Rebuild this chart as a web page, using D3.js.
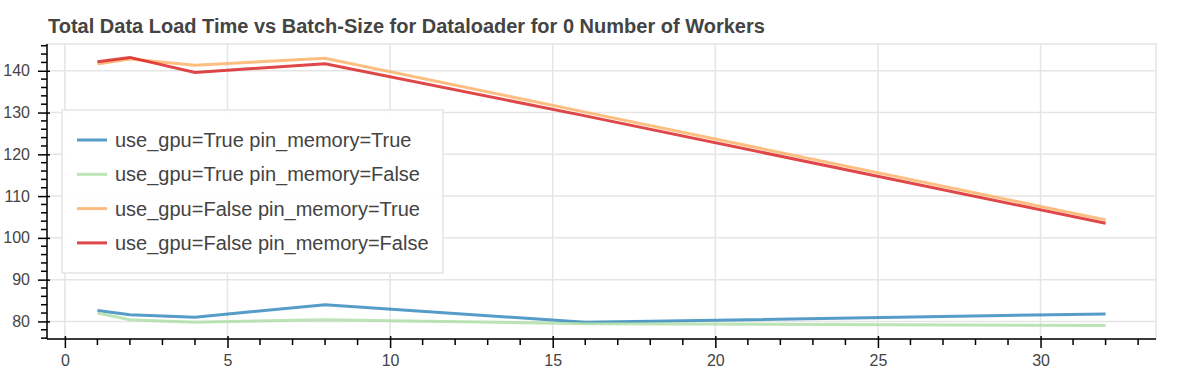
<!DOCTYPE html>
<html>
<head>
<meta charset="utf-8">
<script src="https://cdn.jsdelivr.net/npm/d3@7"></script>
<style>
  body { margin: 0; background: #fff; }
  text { font-family: Helvetica, Arial, "Liberation Sans", sans-serif; fill: #444; }
</style>
</head>
<body>
<div id="chart"></div>
<script>
// data
const batchSizes = [1, 2, 4, 8, 16, 32];
const gpuPinTrue = [82.6, 81.6, 81.0, 84.0, 79.8, 81.8];
const gpuPinFalse = [82.0, 80.4, 79.8, 80.4, 79.45, 79.0];
const cpuPinTrue = [141.6, 142.8, 141.35, 143.0, 130.1, 104.3];
const cpuPinFalse = [142.15, 143.2, 139.6, 141.7, 129.2, 103.5];
const seriesNames = [
  "use_gpu=True pin_memory=True",
  "use_gpu=True pin_memory=False",
  "use_gpu=False pin_memory=True",
  "use_gpu=False pin_memory=False",
];
const colors = ["#2b83ba", "#abdda4", "#fdae61", "#d7191c"];
const xTicks = [0, 5, 10, 15, 20, 25, 30];
const yTicks = [80, 90, 100, 110, 120, 130, 140];

const series = [gpuPinTrue, gpuPinFalse, cpuPinTrue, cpuPinFalse].map((vals, i) => ({
  name: seriesNames[i],
  color: colors[i],
  values: vals.map((v, j) => ({ x: batchSizes[j], y: v })),
}));

const [W, H] = [1200, 375];
const frame = { left: 47, right: 1156, top: 44, bottom: 339 };

const svg = d3.select("#chart").append("svg").attr("width", W).attr("height", H);

// ranges padded like bokeh's DataRange1d (10% total)
function padded(ext) {
  const p = (ext[1] - ext[0]) * 0.05;
  return [ext[0] - p, ext[1] + p];
}
const x = d3.scaleLinear().domain(padded(d3.extent(batchSizes))).range([frame.left, frame.right]);
const allY = series.flatMap((s) => s.values.map((d) => d.y));
const y = d3.scaleLinear().domain(padded(d3.extent(allY))).range([frame.bottom, frame.top]);

// title
svg.append("text")
  .attr("x", 48).attr("y", 33)
  .style("font-size", "20px").style("font-weight", "bold")
  .text("Total Data Load Time vs Batch-Size for Dataloader for 0 Number of Workers");

// grid
const grid = svg.append("g").attr("stroke", "#e5e5e5").attr("stroke-width", 1.5);
xTicks.forEach((t) => {
  grid.append("line").attr("x1", x(t)).attr("x2", x(t)).attr("y1", frame.top).attr("y2", frame.bottom);
});
yTicks.forEach((t) => {
  grid.append("line").attr("x1", frame.left).attr("x2", frame.right).attr("y1", y(t)).attr("y2", y(t));
});
svg.append("rect")
  .attr("x", frame.left).attr("y", frame.top)
  .attr("width", frame.right - frame.left).attr("height", frame.bottom - frame.top)
  .attr("fill", "none").attr("stroke", "#e5e5e5").attr("stroke-width", 1.5);

// lines
const line = d3.line().x((d) => x(d.x)).y((d) => y(d.y));
svg.append("g")
  .selectAll("path")
  .data(series)
  .enter()
  .append("path")
  .attr("d", (d) => line(d.values))
  .attr("fill", "none")
  .attr("stroke", (d) => d.color)
  .attr("stroke-opacity", 0.8)
  .attr("stroke-width", 3);

// axes
const xAxis = d3.axisBottom(x).tickValues(xTicks).tickSizeInner(9).tickSizeOuter(0).tickPadding(7);
const gx = svg.append("g").attr("transform", `translate(0, ${frame.bottom})`).call(xAxis);
const yAxis = d3.axisLeft(y).tickValues(yTicks).tickSizeInner(9).tickSizeOuter(0).tickPadding(8);
const gy = svg.append("g").attr("transform", `translate(${frame.left}, 0)`).call(yAxis);

[gx, gy].forEach((g) => {
  g.select(".domain").remove();
  g.selectAll(".tick line").attr("stroke", "#000").attr("stroke-width", 1.5);
  g.selectAll(".tick text").style("font-size", "16px").attr("fill", "#444");
});
svg.append("line").attr("x1", frame.left).attr("x2", frame.right)
  .attr("y1", frame.bottom).attr("y2", frame.bottom).attr("stroke", "#000").attr("stroke-width", 1.5);
svg.append("line").attr("x1", frame.left).attr("x2", frame.left)
  .attr("y1", frame.top).attr("y2", frame.bottom).attr("stroke", "#000").attr("stroke-width", 1.5);
// major ticks poke 3px into the frame too
gx.selectAll(".tick line").attr("y1", -3);
gy.selectAll(".tick line").attr("x1", 3);

// minor ticks
const xMinor = d3.range(Math.ceil(x.domain()[0]), x.domain()[1], 1).filter((v) => v % 5 !== 0);
svg.append("g").selectAll("line").data(xMinor).enter().append("line")
  .attr("x1", (d) => x(d)).attr("x2", (d) => x(d))
  .attr("y1", frame.bottom).attr("y2", frame.bottom + 6)
  .attr("stroke", "#000").attr("stroke-width", 1.5);
const yMinor = d3.range(Math.ceil(y.domain()[0] / 2) * 2, y.domain()[1], 2).filter((v) => v % 10 !== 0);
svg.append("g").selectAll("line").data(yMinor).enter().append("line")
  .attr("x1", frame.left - 6).attr("x2", frame.left)
  .attr("y1", (d) => y(d)).attr("y2", (d) => y(d))
  .attr("stroke", "#000").attr("stroke-width", 1.5);

// legend
const legend = svg.append("g").attr("transform", "translate(62, 110)");
legend.append("rect")
  .attr("width", 381).attr("height", 163)
  .attr("fill", "#fff").attr("fill-opacity", 0.95)
  .attr("stroke", "#e5e5e5").attr("stroke-width", 1.5);
series.forEach((s, i) => {
  const item = legend.append("g").attr("transform", `translate(0, ${30 + i * 34.3})`);
  item.append("line")
    .attr("x1", 15).attr("x2", 45)
    .attr("stroke", s.color).attr("stroke-opacity", 0.8).attr("stroke-width", 3);
  item.append("text")
    .attr("x", 53).attr("dy", "0.35em")
    .style("font-size", "20px")
    .text(s.name);
});
</script>
</body>
</html>
